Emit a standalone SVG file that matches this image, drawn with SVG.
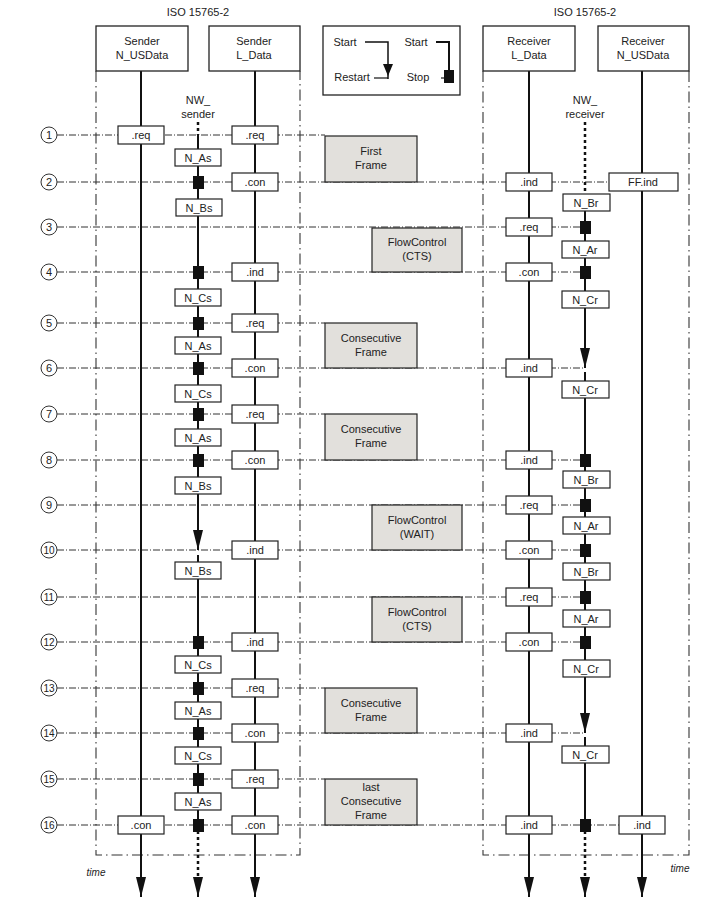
<svg xmlns="http://www.w3.org/2000/svg" width="720" height="908" viewBox="0 0 720 908">
<style>
text{font-family:"Liberation Sans",Arial,sans-serif;font-size:11px;fill:#222;text-anchor:middle}
.hb{fill:#fff;stroke:#222;stroke-width:1.3}
.sb{fill:#fff;stroke:#222;stroke-width:1.2}
.gb{fill:#e2e0dc;stroke:#222;stroke-width:1.2}
.row{stroke:#333;stroke-width:1;stroke-dasharray:7,2,1,2;fill:none}
.enc{stroke:#333;stroke-width:1.1;stroke-dasharray:11,4,1.5,4;fill:none}
.life{stroke:#111;stroke-width:2;fill:none}
.dot{stroke:#111;stroke-width:2.5;stroke-dasharray:3,3;fill:none}
.sq{fill:#111}
.c{fill:#fff;stroke:#333;stroke-width:1}
</style>
<defs>
<marker id="ah" viewBox="0 0 10 20" refX="5" refY="20" markerWidth="10" markerHeight="20" markerUnits="userSpaceOnUse" orient="auto-start-reverse"><path d="M0,0 L10,0 L5,20 Z" fill="#111" transform="rotate(-90 5 10) translate(0 0)"/></marker>
<marker id="a" viewBox="0 0 20 10" refX="20" refY="5" markerWidth="20" markerHeight="10" markerUnits="userSpaceOnUse" orient="auto"><path d="M0,0 L20,5 L0,10 Z" fill="#111"/></marker>
</defs>
<g id="titles">
<text x="198" y="16">ISO 15765-2</text>
<text x="585" y="16">ISO 15765-2</text>
<text x="198" y="104">NW_</text><text x="198" y="118">sender</text>
<text x="585" y="104">NW_</text><text x="585" y="118">receiver</text>
<text x="96" y="876" font-style="italic" style="font-size:10px">time</text>
<text x="680" y="872" font-style="italic" style="font-size:10px">time</text>
</g>
<g id="enclosures">
<path class="enc" d="M96,71 V855 H300 V71"/>
<path class="enc" d="M483,71 V855 H689 V71"/>
</g>
<g id="connectors">
<path class="row" d="M57,135 H325"/>
<path class="row" d="M57,182 H642"/>
<path class="row" d="M57,227 H585"/>
<path class="row" d="M57,272 H585"/>
<path class="row" d="M57,323 H325"/>
<path class="row" d="M57,368 H585"/>
<path class="row" d="M57,414 H325"/>
<path class="row" d="M57,460 H585"/>
<path class="row" d="M57,505 H585"/>
<path class="row" d="M57,550 H585"/>
<path class="row" d="M57,597 H585"/>
<path class="row" d="M57,642 H585"/>
<path class="row" d="M57,688 H325"/>
<path class="row" d="M57,733 H585"/>
<path class="row" d="M57,779 H325"/>
<path class="row" d="M57,825 H642"/>
<path class="life" d="M141,71 V897" marker-end="url(#a)"/>
<path class="life" d="M255,71 V897" marker-end="url(#a)"/>
<path class="life" d="M529,71 V897" marker-end="url(#a)"/>
<path class="life" d="M642,71 V897" marker-end="url(#a)"/>
<path class="dot" d="M198,122 V135"/>
<path class="life" d="M198,135 V484"/>
<path class="life" d="M198,484 V550" marker-end="url(#a)"/>
<path class="life" d="M198,555 V825"/>
<path class="dot" d="M198,825 V880"/>
<path class="life" d="M198,878 V897" marker-end="url(#a)"/>
<path class="dot" d="M585,122 V194"/>
<path class="life" d="M585,194 V300"/>
<path class="life" d="M585,300 V368" marker-end="url(#a)"/>
<path class="life" d="M585,372 V669"/>
<path class="life" d="M585,669 V733" marker-end="url(#a)"/>
<path class="life" d="M585,737 V825"/>
<path class="dot" d="M585,825 V880"/>
<path class="life" d="M585,878 V897" marker-end="url(#a)"/>
</g>
<g id="header-sender-nusdata"><rect class="hb" x="96" y="26" width="92" height="45"/><text x="142" y="45">Sender</text><text x="142" y="59">N_USData</text></g>
<g id="header-sender-ldata"><rect class="hb" x="209" y="26" width="91" height="45"/><text x="254" y="45">Sender</text><text x="254" y="59">L_Data</text></g>
<g id="header-receiver-ldata"><rect class="hb" x="483" y="26" width="92" height="45"/><text x="529" y="45">Receiver</text><text x="529" y="59">L_Data</text></g>
<g id="header-receiver-nusdata"><rect class="hb" x="598" y="26" width="91" height="45"/><text x="643" y="45">Receiver</text><text x="643" y="59">N_USData</text></g>
<g id="legend">
<rect class="hb" x="323" y="26" width="137" height="69"/>
<text x="345" y="46">Start</text><text x="352" y="81">Restart</text>
<text x="416" y="46">Start</text><text x="418" y="81">Stop</text>
<path d="M365,42 H388 V79" stroke="#111" stroke-width="1.5" fill="none"/>
<path d="M383,64 L393,64 L388,76 Z" fill="#111"/>
<path d="M374,78 H388" stroke="#111" stroke-width="1.2"/>
<path d="M436,42 H449 V72" stroke="#111" stroke-width="2" fill="none"/>
<path d="M441,78 H445" stroke="#111" stroke-width="1.2"/>
<rect class="sq" x="444" y="70" width="10" height="13"/>
</g>
<g id="row-numbers">
<circle class="c" cx="49" cy="135" r="8"/><text x="49" y="139">1</text>
<circle class="c" cx="49" cy="182" r="8"/><text x="49" y="186">2</text>
<circle class="c" cx="49" cy="227" r="8"/><text x="49" y="231">3</text>
<circle class="c" cx="49" cy="272" r="8"/><text x="49" y="276">4</text>
<circle class="c" cx="49" cy="323" r="8"/><text x="49" y="327">5</text>
<circle class="c" cx="49" cy="368" r="8"/><text x="49" y="372">6</text>
<circle class="c" cx="49" cy="414" r="8"/><text x="49" y="418">7</text>
<circle class="c" cx="49" cy="460" r="8"/><text x="49" y="464">8</text>
<circle class="c" cx="49" cy="505" r="8"/><text x="49" y="509">9</text>
<circle class="c" cx="49" cy="550" r="8"/><text x="49" y="554" style="font-size:10px">10</text>
<circle class="c" cx="49" cy="597" r="8"/><text x="49" y="601" style="font-size:10px">11</text>
<circle class="c" cx="49" cy="642" r="8"/><text x="49" y="646" style="font-size:10px">12</text>
<circle class="c" cx="49" cy="688" r="8"/><text x="49" y="692" style="font-size:10px">13</text>
<circle class="c" cx="49" cy="733" r="8"/><text x="49" y="737" style="font-size:10px">14</text>
<circle class="c" cx="49" cy="779" r="8"/><text x="49" y="783" style="font-size:10px">15</text>
<circle class="c" cx="49" cy="825" r="8"/><text x="49" y="829" style="font-size:10px">16</text>
</g>
<g id="frames">
<g id="ff"><rect class="gb" x="325" y="136" width="92" height="46"/><text x="371" y="155">First</text><text x="371" y="169">Frame</text></g>
<g id="fc1"><rect class="gb" x="372" y="228" width="90" height="44"/><text x="417" y="246">FlowControl</text><text x="417" y="260">(CTS)</text></g>
<g id="cf1"><rect class="gb" x="325" y="323" width="92" height="45"/><text x="371" y="342">Consecutive</text><text x="371" y="356">Frame</text></g>
<g id="cf2"><rect class="gb" x="325" y="414" width="92" height="46"/><text x="371" y="433">Consecutive</text><text x="371" y="447">Frame</text></g>
<g id="fc2"><rect class="gb" x="372" y="505" width="90" height="45"/><text x="417" y="524">FlowControl</text><text x="417" y="538">(WAIT)</text></g>
<g id="fc3"><rect class="gb" x="372" y="597" width="90" height="45"/><text x="417" y="616">FlowControl</text><text x="417" y="630">(CTS)</text></g>
<g id="cf3"><rect class="gb" x="325" y="688" width="92" height="45"/><text x="371" y="707">Consecutive</text><text x="371" y="721">Frame</text></g>
<g id="cf4"><rect class="gb" x="325" y="779" width="92" height="46"/><text x="371" y="791">last</text><text x="371" y="805">Consecutive</text><text x="371" y="819">Frame</text></g>
</g>
<g id="sender-nus-prims">
<rect class="sb" x="118" y="126" width="46" height="18"/><text x="141" y="139">.req</text>
<rect class="sb" x="118" y="816" width="46" height="18"/><text x="141" y="829">.con</text>
</g>
<g id="sender-l-prims">
<rect class="sb" x="232" y="126" width="46" height="18"/><text x="255" y="139">.req</text>
<rect class="sb" x="232" y="173" width="46" height="18"/><text x="255" y="186">.con</text>
<rect class="sb" x="232" y="263" width="46" height="18"/><text x="255" y="276">.ind</text>
<rect class="sb" x="232" y="314" width="46" height="18"/><text x="255" y="327">.req</text>
<rect class="sb" x="232" y="359" width="46" height="18"/><text x="255" y="372">.con</text>
<rect class="sb" x="232" y="405" width="46" height="18"/><text x="255" y="418">.req</text>
<rect class="sb" x="232" y="451" width="46" height="18"/><text x="255" y="464">.con</text>
<rect class="sb" x="232" y="541" width="46" height="18"/><text x="255" y="554">.ind</text>
<rect class="sb" x="232" y="633" width="46" height="18"/><text x="255" y="646">.ind</text>
<rect class="sb" x="232" y="679" width="46" height="18"/><text x="255" y="692">.req</text>
<rect class="sb" x="232" y="724" width="46" height="18"/><text x="255" y="737">.con</text>
<rect class="sb" x="232" y="770" width="46" height="18"/><text x="255" y="783">.req</text>
<rect class="sb" x="232" y="816" width="46" height="18"/><text x="255" y="829">.con</text>
</g>
<g id="receiver-l-prims">
<rect class="sb" x="506" y="173" width="46" height="18"/><text x="529" y="186">.ind</text>
<rect class="sb" x="506" y="218" width="46" height="18"/><text x="529" y="231">.req</text>
<rect class="sb" x="506" y="263" width="46" height="18"/><text x="529" y="276">.con</text>
<rect class="sb" x="506" y="359" width="46" height="18"/><text x="529" y="372">.ind</text>
<rect class="sb" x="506" y="451" width="46" height="18"/><text x="529" y="464">.ind</text>
<rect class="sb" x="506" y="496" width="46" height="18"/><text x="529" y="509">.req</text>
<rect class="sb" x="506" y="541" width="46" height="18"/><text x="529" y="554">.con</text>
<rect class="sb" x="506" y="588" width="46" height="18"/><text x="529" y="601">.req</text>
<rect class="sb" x="506" y="633" width="46" height="18"/><text x="529" y="646">.con</text>
<rect class="sb" x="506" y="724" width="46" height="18"/><text x="529" y="737">.ind</text>
<rect class="sb" x="506" y="816" width="46" height="18"/><text x="529" y="829">.ind</text>
</g>
<g id="receiver-nus-prims">
<rect class="sb" x="609" y="173" width="69" height="18"/><text x="643" y="186">FF.ind</text>
<rect class="sb" x="619" y="816" width="46" height="18"/><text x="642" y="829">.ind</text>
</g>
<g id="nw-sender">
<rect class="sb" x="175" y="149" width="46" height="17"/><text x="198" y="162">N_As</text>
<rect class="sb" x="176" y="199" width="46" height="17"/><text x="199" y="212">N_Bs</text>
<rect class="sb" x="175" y="289" width="46" height="17"/><text x="198" y="302">N_Cs</text>
<rect class="sb" x="175" y="337" width="46" height="17"/><text x="198" y="350">N_As</text>
<rect class="sb" x="175" y="385" width="46" height="17"/><text x="198" y="398">N_Cs</text>
<rect class="sb" x="175" y="429" width="46" height="17"/><text x="198" y="442">N_As</text>
<rect class="sb" x="175" y="477" width="46" height="17"/><text x="198" y="490">N_Bs</text>
<rect class="sb" x="175" y="562" width="46" height="17"/><text x="198" y="575">N_Bs</text>
<rect class="sb" x="175" y="656" width="46" height="17"/><text x="198" y="669">N_Cs</text>
<rect class="sb" x="175" y="702" width="46" height="17"/><text x="198" y="715">N_As</text>
<rect class="sb" x="175" y="747" width="46" height="17"/><text x="198" y="760">N_Cs</text>
<rect class="sb" x="175" y="793" width="46" height="17"/><text x="198" y="806">N_As</text>
<rect class="sq" x="193" y="176" width="11" height="13"/>
<rect class="sq" x="193" y="266" width="11" height="13"/>
<rect class="sq" x="193" y="317" width="11" height="13"/>
<rect class="sq" x="193" y="362" width="11" height="13"/>
<rect class="sq" x="193" y="408" width="11" height="13"/>
<rect class="sq" x="193" y="454" width="11" height="13"/>
<rect class="sq" x="193" y="636" width="11" height="13"/>
<rect class="sq" x="193" y="682" width="11" height="13"/>
<rect class="sq" x="193" y="727" width="11" height="13"/>
<rect class="sq" x="193" y="773" width="11" height="13"/>
<rect class="sq" x="193" y="819" width="11" height="13"/>
</g>
<g id="nw-receiver">
<rect class="sb" x="563" y="194" width="47" height="17"/><text x="586" y="207">N_Br</text>
<rect class="sb" x="562" y="241" width="47" height="17"/><text x="585" y="254">N_Ar</text>
<rect class="sb" x="562" y="291" width="47" height="17"/><text x="585" y="304">N_Cr</text>
<rect class="sb" x="562" y="381" width="47" height="17"/><text x="585" y="394">N_Cr</text>
<rect class="sb" x="563" y="471" width="47" height="17"/><text x="586" y="484">N_Br</text>
<rect class="sb" x="563" y="517" width="47" height="17"/><text x="586" y="530">N_Ar</text>
<rect class="sb" x="563" y="563" width="47" height="17"/><text x="586" y="576">N_Br</text>
<rect class="sb" x="563" y="610" width="47" height="17"/><text x="586" y="623">N_Ar</text>
<rect class="sb" x="563" y="660" width="47" height="17"/><text x="586" y="673">N_Cr</text>
<rect class="sb" x="562" y="746" width="47" height="17"/><text x="585" y="759">N_Cr</text>
<rect class="sq" x="580" y="221" width="11" height="13"/>
<rect class="sq" x="580" y="266" width="11" height="13"/>
<rect class="sq" x="580" y="454" width="11" height="13"/>
<rect class="sq" x="580" y="499" width="11" height="13"/>
<rect class="sq" x="580" y="544" width="11" height="13"/>
<rect class="sq" x="580" y="591" width="11" height="13"/>
<rect class="sq" x="580" y="636" width="11" height="13"/>
<rect class="sq" x="580" y="819" width="11" height="13"/>
</g>
</svg>
